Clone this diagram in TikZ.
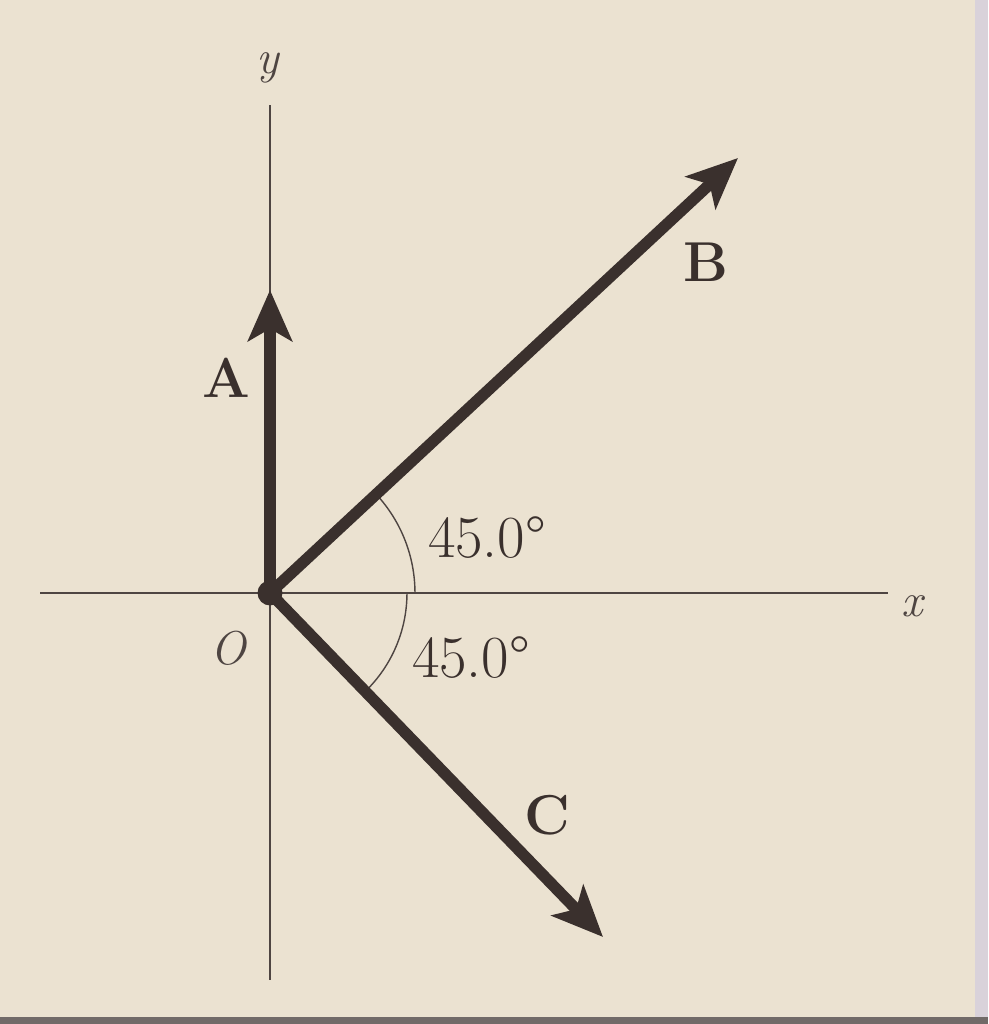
\documentclass[tikz,border=0pt]{standalone}
\usepackage{fontspec}
\usetikzlibrary{arrows.meta}
\definecolor{paper}{HTML}{EBE2D1}
\definecolor{ink}{HTML}{3A302D}
\definecolor{thin}{HTML}{4E4542}
\definecolor{edge}{HTML}{D9D2DA}
\tikzset{
  vec/.style={draw=ink, line width=6.5pt, -{Stealth[length=29pt, width=25pt, inset=7pt]}},
  axis/.style={draw=thin, line width=0.8pt},
  anglearc/.style={draw=thin, line width=0.8pt},
  veclabel/.style={text=ink, font=\fontsize{32}{36}\selectfont\bfseries},
  axlabel/.style={text=thin, font=\fontsize{27}{31}\selectfont\itshape},
  anglabel/.style={text=ink, font=\fontsize{34}{38}\selectfont}
}
\begin{document}
\begin{tikzpicture}[x=0.02cm, y=0.02cm]
  \fill[paper] (0,0) rectangle (988,1024);
  \fill[edge] (975,0) rectangle (988,1024);
  \fill[thin!80] (0,0) rectangle (988,7);
  \useasboundingbox (0,0) rectangle (988,1024);
  % points
  \coordinate (O) at (270,431);
  \coordinate (Atip) at (270,734);
  \coordinate (Btip) at (738,866);
  \coordinate (Ctip) at (603,87);
  \coordinate (ytop) at (270,919);
  \coordinate (ybot) at (270,44);
  \coordinate (xleft) at (40,431);
  \coordinate (xright) at (888,431);
  % axes
  \draw[axis] (ybot) -- (ytop);
  \draw[axis] (xleft) -- (xright);
  % angle arcs
  \draw[anglearc] (O) ++(2.9cm,0) arc[start angle=0, end angle=43, radius=2.9cm];
  \draw[anglearc] (O) ++(2.74cm,0) arc[start angle=0, end angle=-46, radius=2.74cm];
  % vectors
  \draw[vec] (O) -- (Atip);
  \draw[vec] (O) -- (Btip);
  \draw[vec] (O) -- (Ctip);
  \fill[ink] (O) circle (0.25cm);
  % labels
  \node[axlabel] (ylab) at (268,956) {y};
  \node[axlabel] (xlab) at (912,418) {x};
  \node[axlabel] (Olab) at (228,376) {O};
  \node[veclabel] (Alab) at (226,646) {A};
  \node[veclabel] (Blab) at (706,762) {B};
  \node[veclabel] (Clab) at (547,209) {C};
  \node[anglabel] (ang1) at (487,486) {45.0°};
  \node[anglabel] (ang2) at (471,366) {45.0°};
\end{tikzpicture}
\end{document}
